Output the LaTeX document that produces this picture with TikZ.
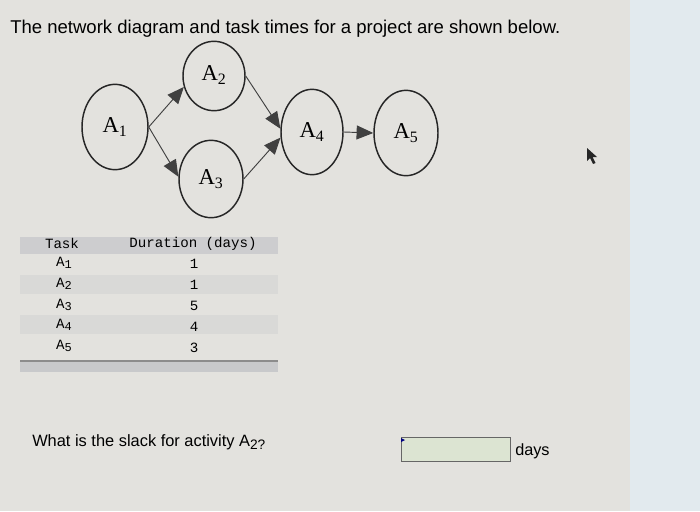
\documentclass[tikz,border=0pt]{standalone}
\usepackage{fontspec}
\setmainfont{Liberation Serif}
\setsansfont{Liberation Sans}
\setmonofont{Liberation Mono}
\usetikzlibrary{arrows.meta,shapes.geometric}
\definecolor{bgc}{HTML}{E3E2DE}
\definecolor{stripc}{HTML}{E2EAEE}
\definecolor{headc}{HTML}{CDCDCF}
\definecolor{rowc}{HTML}{D9D9D7}
\definecolor{barc}{HTML}{C8C9CB}
\definecolor{boxc}{HTML}{DCE4D2}
\newcommand{\msub}[1]{\raisebox{-2pt}{\fontsize{9}{10}\selectfont #1}}
\begin{document}
\begin{tikzpicture}[x=0.75pt,y=-0.75pt,
  act/.style={draw=black!85, line width=1.1pt, ellipse, inner sep=0pt,
    font=\fontsize{17}{17}\selectfont},
  arr/.style={draw=black!75, line width=0.7pt, -{Triangle[length=12.5pt,width=10.5pt]}},
  mono/.style={font=\ttfamily\fontsize{10.6}{12}\selectfont, inner sep=0pt},
  sans/.style={font=\sffamily, inner sep=0pt, anchor=base west}]
% background
\fill[bgc] (0,0) rectangle (700,511);
\fill[stripc] (630,0) rectangle (700,511);
\useasboundingbox (0,0) rectangle (700,511);
% title
\node[sans, font=\sffamily\fontsize{13.9}{15}\selectfont] (title) at (10,33)
  {The network diagram and task times for a project are shown below.};
% network
\node[act, minimum width=49.5pt, minimum height=64pt] (a1) at (115,127) {A\textsubscript{1}};
\node[act, minimum width=46.5pt, minimum height=52pt] (a2) at (214,76) {\raisebox{4pt}{A\textsubscript{2}}};
\node[act, minimum width=48pt, minimum height=58pt] (a3) at (211,179) {\raisebox{-2pt}{A\textsubscript{3}}};
\node[act, minimum width=46.5pt, minimum height=64pt] (a4) at (312,132) {A\textsubscript{4}};
\node[act, minimum width=48pt, minimum height=64pt] (a5) at (406,133) {A\textsubscript{5}};
\draw[arr] (a1.east) -- (a2.200);
\draw[arr] (a1.east) -- (a3.176);
\draw[arr] (a2.east) -- (a4.174);
\draw[arr] (a3.east) -- (a4.190);
\draw[arr] (a4.east) -- (a5.west);
% table
\fill[headc] (20,237) rectangle (278,254);
\fill[rowc] (20,275) rectangle (278,294);
\fill[rowc] (20,315) rectangle (278,334);
\fill[barc] (20,361) rectangle (278,372);
\draw[black!45, line width=0.8pt] (20,361) -- (278,361);
\node[mono] (th1) at (62,243) {Task};
\node[mono] (th2) at (193,244) {Duration (days)};
\node[mono] (t1) at (64,263) {A\msub{1}};
\node[mono] (t2) at (64,284) {A\msub{2}};
\node[mono] (t3) at (64,305) {A\msub{3}};
\node[mono] (t4) at (64,325) {A\msub{4}};
\node[mono] (t5) at (64,346) {A\msub{5}};
\node[mono] (d1) at (194,264) {1};
\node[mono] (d2) at (194,285) {1};
\node[mono] (d3) at (194,306) {5};
\node[mono] (d4) at (194,327) {4};
\node[mono] (d5) at (194,348) {3};
% question
\node[sans, font=\sffamily\fontsize{12.3}{14}\selectfont] (q) at (32,446)
  {What is the slack for activity A\raisebox{-2.4pt}{\fontsize{10.3}{11}\selectfont 2?}};
\draw[fill=boxc, draw=black!60, line width=0.7pt] (401,437) rectangle (510,461);
\fill[blue!50!black] (401,438) -- (405,440) -- (401,442) -- cycle;
\node[sans, font=\sffamily\fontsize{12.2}{14}\selectfont] (days) at (515,455) {days};
% cursor
\fill[black!85] (587,148) -- (587,161) -- (590,158) -- (593,164) -- (595.5,163) -- (592.5,157) -- (597,157) -- cycle;
\end{tikzpicture}
\end{document}
